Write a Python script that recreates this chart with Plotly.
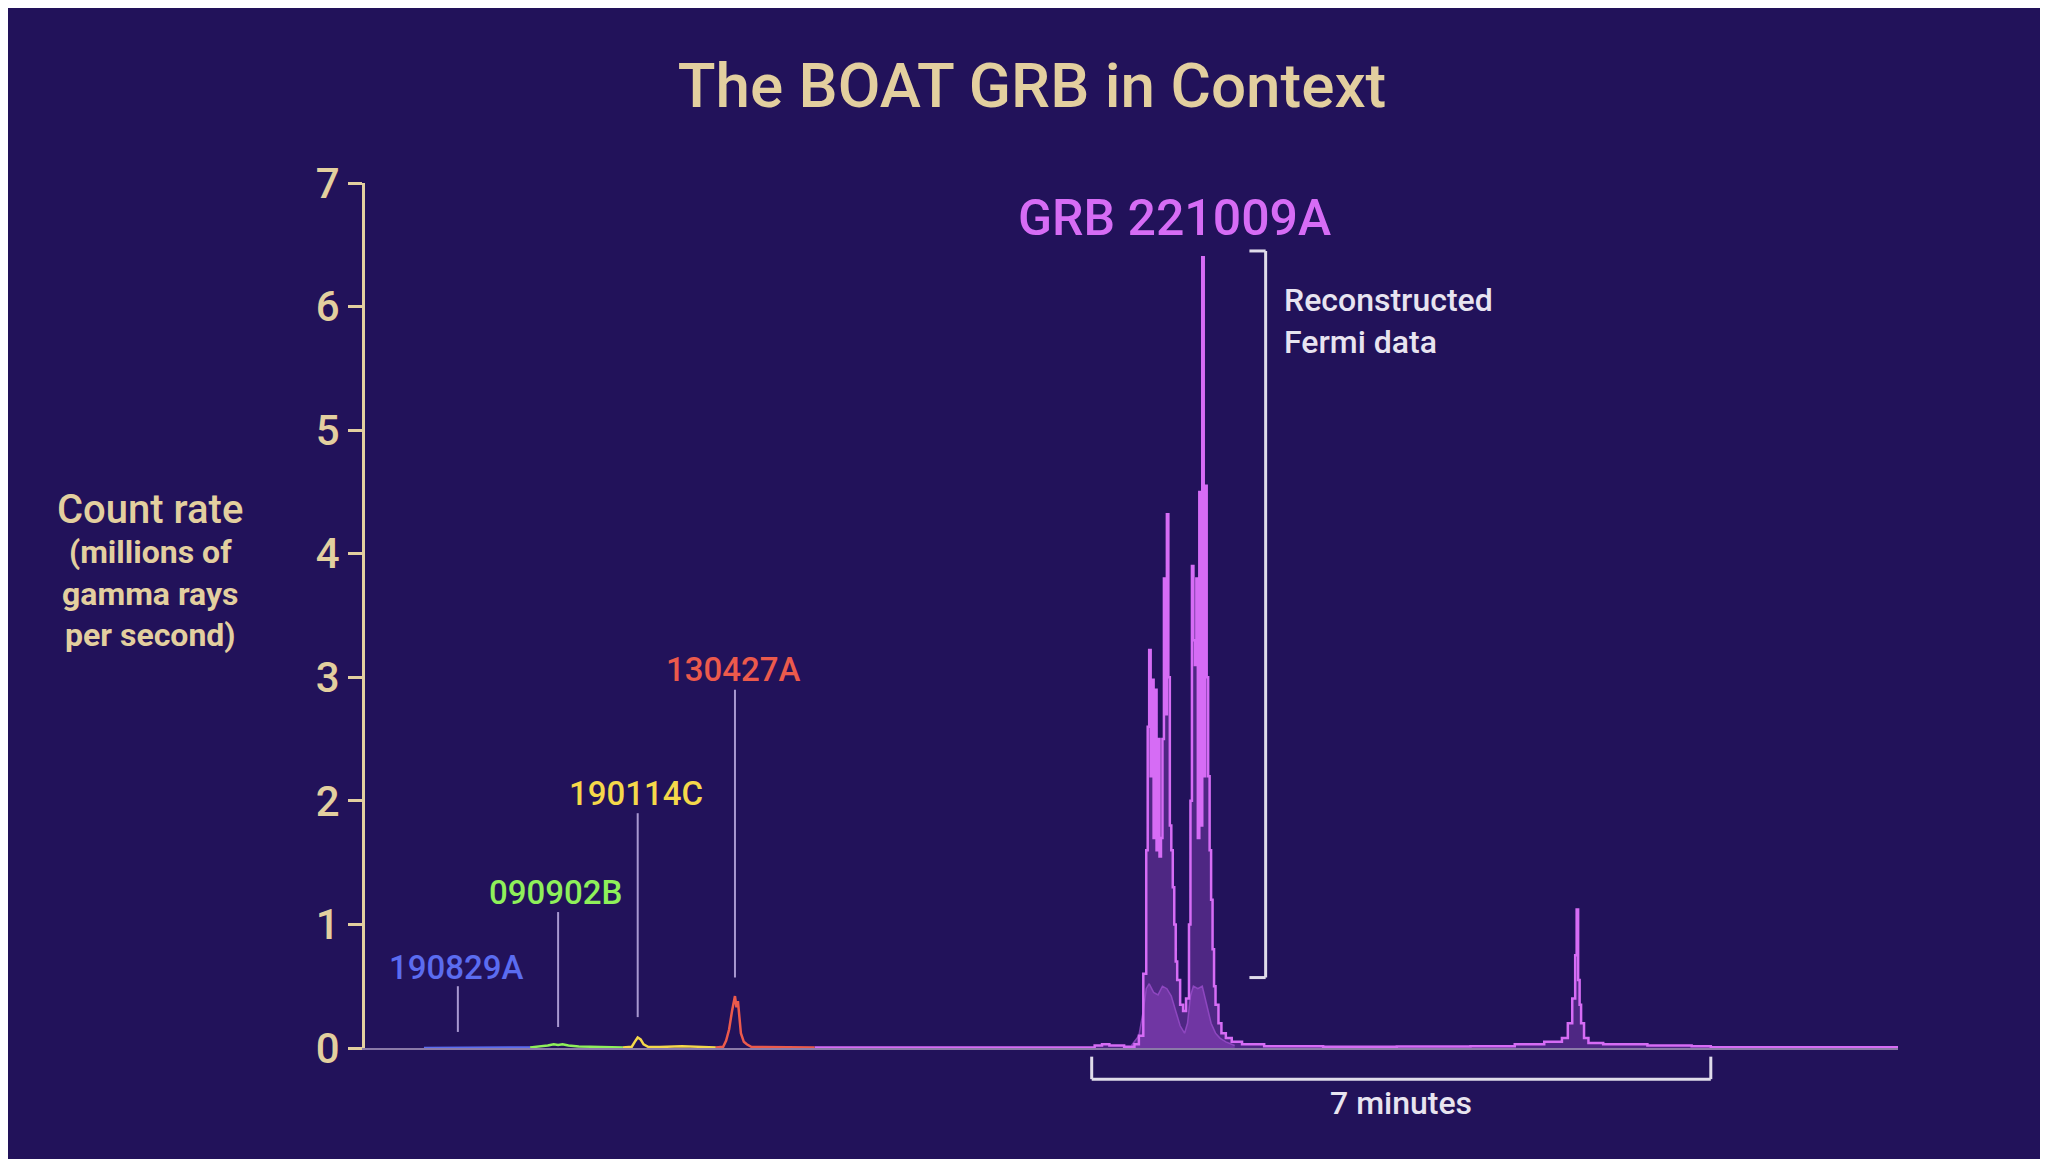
import plotly.graph_objects as go

# ---- data (time in seconds from axis origin, count rate in millions/s) ----
blue_t = [40, 60, 80, 100, 112]
blue_y = [0.0, 0.003, 0.004, 0.003, 0.005]
green_t = [112, 118, 124, 128, 131, 134, 138, 145, 155, 165, 175]
green_y = [0.005, 0.01, 0.02, 0.03, 0.025, 0.03, 0.02, 0.012, 0.008, 0.006, 0.005]
yellow_t = [175, 181, 183, 185, 187, 189, 192, 200, 215, 230, 238]
yellow_y = [0.005, 0.01, 0.05, 0.085, 0.07, 0.03, 0.01, 0.008, 0.015, 0.006, 0.005]
red_t = [238, 243, 245, 247, 249, 250, 251, 252, 253, 254, 255, 257, 259, 262, 270, 280, 305]
red_y = [0.005, 0.01, 0.06, 0.15, 0.3, 0.36, 0.42, 0.33, 0.38, 0.25, 0.12, 0.05, 0.03, 0.01, 0.008, 0.005, 0.004]
grb_t = [305, 400, 480, 495, 500, 505, 515, 522, 525, 528, 530, 531, 532, 533, 534, 535, 536, 537, 538, 539, 540,
         541, 542, 543, 544, 545, 546, 547, 548, 549, 550, 551, 553, 555, 557, 559, 560, 561, 562, 563, 564, 565,
         566, 567, 568, 569, 570, 571, 572, 573, 574, 575, 576, 577, 579, 581, 584, 588, 595, 610, 650, 700,
         750, 780, 800, 812, 816, 819, 821, 822, 823, 824, 825, 827, 830, 840, 870, 900, 913, 1040]
grb_y = [0.004, 0.004, 0.005, 0.02, 0.03, 0.02, 0.01, 0.03, 0.1, 0.6, 1.6, 2.6, 3.22, 2.2, 2.98, 1.7, 2.9, 1.6, 2.5, 1.55, 1.7,
         2.5, 3.8, 2.7, 4.32, 3.0, 1.8, 1.6, 1.3, 1.0, 0.7, 0.55, 0.35, 0.3, 0.4, 1.0, 2.0, 3.9, 3.3, 3.1, 3.8, 1.7,
         4.5, 1.8, 6.4, 2.2, 4.55, 3.0, 2.2, 1.6, 1.2, 0.8, 0.5, 0.35, 0.2, 0.12, 0.08, 0.05, 0.03, 0.015, 0.01, 0.012,
         0.015, 0.03, 0.05, 0.08, 0.2, 0.4, 0.75, 1.12, 0.55, 0.35, 0.2, 0.08, 0.04, 0.03, 0.02, 0.015, 0.006, 0.004]
sat_t = [520, 525, 528, 530, 532, 535, 538, 541, 544, 547, 550, 553, 556, 558, 560, 562, 565, 568, 571, 574, 577, 580, 584, 590]
sat_y = [0.02, 0.1, 0.3, 0.48, 0.52, 0.45, 0.43, 0.5, 0.48, 0.42, 0.3, 0.18, 0.12, 0.2, 0.42, 0.5, 0.48, 0.5, 0.35, 0.2, 0.12, 0.08, 0.05, 0.02]

labels = ["190829A", "090902B", "190114C", "130427A"]
label_t = [62, 129, 184, 250]
label_y = [0.65, 1.26, 2.06, 3.06]
lead_t = [63, 131, 185, 251]
lead_y0 = [0.13, 0.17, 0.25, 0.57]
lead_y1 = [0.5, 1.1, 1.9, 2.9]
colors = ["#5b6cf0", "#8ff05a", "#f5d84a", "#ec5a4c"]
grb_color = "#d66cf5"
tan = "#e3cf9f"
FONT = "Roboto"
NARROW = "Liberation Sans Narrow, Roboto"

fig = go.Figure()
fig.add_trace(go.Scatter(x=sat_t, y=sat_y, mode="lines", fill="tozeroy",
                         line=dict(color="rgba(140,70,190,0.9)", width=1.5),
                         fillcolor="rgba(150,70,200,0.45)", hoverinfo="skip"))
fig.add_trace(go.Scatter(x=grb_t, y=grb_y, mode="lines", line=dict(color=grb_color, width=2.5),
                         line_shape="hv", fill="tozeroy", fillcolor="rgba(160,80,210,0.35)"))
for t, y, c in [(blue_t, blue_y, colors[0]), (green_t, green_y, colors[1]),
                (yellow_t, yellow_y, colors[2]), (red_t, red_y, colors[3])]:
    fig.add_trace(go.Scatter(x=t, y=y, mode="lines", line=dict(color=c, width=2.5)))

for lab, tx, ty, c in zip(labels, label_t, label_y, colors):
    fig.add_annotation(x=tx, y=ty, text=lab, showarrow=False,
                       font=dict(size=33, color=c, family=FONT, weight=500))
for tx, a, b in zip(lead_t, lead_y0, lead_y1):
    fig.add_shape(type="line", x0=tx, x1=tx, y0=a, y1=b, line=dict(color="#a898d0", width=2))

fig.add_annotation(x=549, y=6.72, text="GRB 221009A", showarrow=False,
                   font=dict(size=50, color=grb_color, family=FONT, weight=500))
fig.add_annotation(x=622, y=5.88, text="Reconstructed<br>Fermi data", showarrow=False, xanchor="left", align="left",
                   font=dict(size=32, color="#e8e4f0", family=FONT, weight=500))
# Fermi bracket
for x0, x1, y0, y1 in [(600, 611, 6.45, 6.45), (611, 611, 6.45, 0.57), (600, 611, 0.57, 0.57)]:
    fig.add_shape(type="line", x0=x0, x1=x1, y0=y0, y1=y1, line=dict(color="#e0dcea", width=3))
# 7 minutes bracket (below axis, plot-area relative y)
for x0, x1, y0, y1 in [(493, 493, -0.010, -0.036), (493, 913, -0.036, -0.036), (913, 913, -0.036, -0.010)]:
    fig.add_shape(type="line", xref="x", yref="paper", x0=x0, x1=x1, y0=y0, y1=y1,
                  line=dict(color="#e0dcea", width=3))
fig.add_annotation(x=703, y=-0.088, yref="paper", text="7 minutes", showarrow=False,
                   font=dict(size=32, color="#e8e4f0", family=FONT, weight=500))

fig.add_annotation(x=-0.14, xref="paper", xanchor="center", y=4.36, text="Count rate", showarrow=False,
                   font=dict(size=40, color=tan, family=FONT, weight=500))
fig.add_annotation(x=-0.14, xref="paper", xanchor="center", y=3.68,
                   text="(millions of<br>gamma rays<br>per second)",
                   showarrow=False, font=dict(size=32, color=tan, family=NARROW, weight=700))

fig.update_layout(
    width=2048, height=1159, showlegend=False,
    paper_bgcolor="#22125a", plot_bgcolor="rgba(0,0,0,0)",
    margin=dict(l=357, r=158, t=175, b=119),
    title=dict(text="The BOAT GRB in Context", x=0.5, xanchor="center", y=0.933, yanchor="middle",
               font=dict(size=62, color=tan, family=FONT, weight=500)),
    xaxis=dict(range=[0, 1040], showgrid=False, zeroline=False, showticklabels=False,
               showline=True, linecolor="#8a7aa8", linewidth=2),
    yaxis=dict(range=[0, 7], dtick=1, showgrid=False, zeroline=False, showline=True,
               linecolor=tan, linewidth=3, ticks="outside", ticklen=14, tickwidth=3, tickcolor=tan,
               tickfont=dict(size=42, color=tan, family=FONT, weight=500)),
)
fig.write_html("out.html")
